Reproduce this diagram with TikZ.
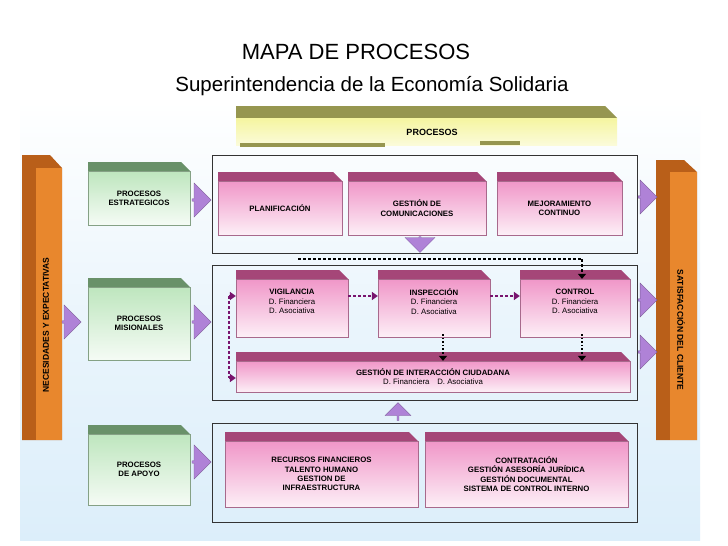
\documentclass[tikz,border=0pt]{standalone}
\usepackage{fontspec}
\setmainfont{Liberation Sans}
\usetikzlibrary{shapes.arrows,arrows.meta}
\definecolor{pinkF}{RGB}{240,150,200}
\definecolor{pinkL}{RGB}{253,235,245}
\definecolor{pinkT}{RGB}{165,70,120}
\definecolor{greenF}{RGB}{190,230,190}
\definecolor{greenL}{RGB}{245,252,245}
\definecolor{greenT}{RGB}{105,145,105}
\definecolor{orF}{RGB}{232,135,45}
\definecolor{orD}{RGB}{185,95,25}
\definecolor{yelF}{RGB}{245,245,160}
\definecolor{yelT}{RGB}{150,150,80}
\definecolor{purA}{RGB}{175,130,215}
\definecolor{purD}{RGB}{120,20,110}
\definecolor{bgB}{RGB}{220,238,250}
\newcommand\tbox[8]{%
 \fill[#7] (#2,#3) -- (#4-9,#3) -- (#4,#3+9) -- (#2,#3+9) -- cycle;
 \node[top color=#6,bottom color=#6!15!white,draw=#6!70!black,line width=0.3pt,inner sep=1pt,align=center,font=\bfseries\fontsize{7.8}{9.3}\selectfont,minimum width={(#4-#2)*1pt},minimum height={(#5-#3-9)*1pt}] (#1) at ({(#2+#4)/2},{(#3+9+#5)/2}) {#8};}
\tikzset{parr/.style={single arrow,fill=purA,draw=purA!70!black,line width=0.3pt,minimum height=19pt,minimum width=34pt,single arrow head extend=2pt,single arrow head indent=0pt,inner sep=0pt},
 frame/.style={draw=black!80,line width=0.9pt},
 pdot/.style={purD,line width=2.6pt,dash pattern=on 2.6pt off 2.4pt,-{Triangle[length=6pt,width=8pt]}},
 bdot/.style={black,line width=2.6pt,dash pattern=on 2.6pt off 2.4pt,-{Triangle[length=5pt,width=8pt]}}}
\begin{document}
\begin{tikzpicture}[x=1pt,y=-1pt]
\useasboundingbox (0,0) rectangle (728,546);
\fill[white] (0,0) rectangle (728,546);
\shade[top color=white,bottom color=bgB,middle color=bgB!60] (20,100) rectangle (700,540);
\node[font=\fontsize{22}{24}\selectfont] (title) at (356,52) {MAPA DE PROCESOS};
\node[font=\fontsize{20.5}{24}\selectfont] (sub) at (372,86) {Superintendencia de la Economía Solidaria};
% PROCESOS bar
\fill[yelT] (236,106) -- (605,106) -- (617,118) -- (236,118) -- cycle;
\shade[top color=yelF,bottom color=yelF!40!white] (236,118) rectangle (617,145);
\node[font=\bfseries\fontsize{9}{10}\selectfont] (proc) at (432,132) {PROCESOS};
\fill[yelT] (240,143) rectangle (385,147); \fill[yelT] (480,141) rectangle (520,145);
% orange pillars
\fill[orD] (22,155) -- (50,155) -- (62,168) -- (62,440) -- (22,440) -- cycle;
\fill[orF] (36,168) rectangle (62,440);
\node[rotate=90,font=\bfseries\fontsize{8.5}{9}\selectfont] (nec) at (46,325) {NECESIDADES Y EXPECTATIVAS};
\fill[orD] (656,160) -- (684,160) -- (697,172) -- (697,440) -- (656,440) -- cycle;
\fill[orF] (670,172) rectangle (697,440);
\node[rotate=-90,font=\bfseries\fontsize{8.5}{9}\selectfont] (sat) at (681,330) {SATISFACCIÓN DEL CLIENTE};
% green
\tbox{ge}{88}{162}{190}{225}{greenF}{greenT}{PROCESOS\\ESTRATEGICOS}
\tbox{gm}{88}{278}{190}{360}{greenF}{greenT}{PROCESOS\\MISIONALES}
\tbox{ga}{88}{425}{190}{505}{greenF}{greenT}{PROCESOS\\DE APOYO}
% frames
\draw[frame] (212,155) rectangle (637,253);
\draw[frame] (212,265) rectangle (637,400);
\draw[frame] (212,423) rectangle (637,522);
% top boxes
\tbox{plan}{218}{172}{342}{235}{pinkF}{pinkT}{PLANIFICACIÓN}
\tbox{com}{348}{172}{486}{235}{pinkF}{pinkT}{GESTIÓN DE\\COMUNICACIONES}
\tbox{mej}{497}{172}{622}{235}{pinkF}{pinkT}{MEJORAMIENTO\\CONTINUO}
% middle
\tbox{vig}{236}{270}{348}{337}{pinkF}{pinkT}{VIGILANCIA\\\mdseries D. Financiera\\\mdseries D. Asociativa\\[4pt]}
\tbox{ins}{378}{270}{490}{337}{pinkF}{pinkT}{INSPECCIÓN\\\mdseries D. Financiera\\\mdseries D. Asociativa\\[4pt]}
\tbox{ctl}{520}{270}{630}{337}{pinkF}{pinkT}{CONTROL\\\mdseries D. Financiera\\\mdseries D. Asociativa\\[4pt]}
\tbox{gic}{236}{352}{630}{392}{pinkF}{pinkT}{GESTIÓN DE INTERACCIÓN CIUDADANA\\\mdseries D. Financiera\quad D. Asociativa}
% bottom
\tbox{rec}{225}{432}{418}{507}{pinkF}{pinkT}{RECURSOS FINANCIEROS\\TALENTO HUMANO\\GESTION DE\\INFRAESTRUCTURA}
\tbox{con}{425}{432}{628}{507}{pinkF}{pinkT}{CONTRATACIÓN\\GESTIÓN ASESORÍA JURÍDICA\\GESTIÓN DOCUMENTAL\\SISTEMA DE CONTROL INTERNO}
% purple arrows
\node[parr] (a1) at (201,200) {};
\node[parr] (a2) at (71,322) {};
\node[parr] (a3) at (201,322) {};
\node[parr] (a4) at (201,462) {};
\node[parr] (a5) at (647,197) {};
\node[parr] (a6) at (647,300) {};
\node[parr] (a7) at (647,352) {};
\node[parr,rotate=-90,minimum height=16pt,minimum width=30pt] (a8) at (420,244) {};
\node[parr,rotate=90,minimum height=18pt,minimum width=26pt] (a9) at (398,412) {};
% dotted connectors
\coordinate (d0) at (298,259);
\coordinate (d1) at (582,259);
\draw[black,line width=2.6pt,dash pattern=on 2.6pt off 2.4pt] (d0) -- (d1);
\draw[bdot] (d1) -- (ctl.north -| d1);
\draw[pdot] (vig.east |- 0,296) -- (ins.west |- 0,296);
\draw[pdot] (ins.east |- 0,296) -- (ctl.west |- 0,296);
\coordinate (l1) at (229,296);
\coordinate (l2) at (229,378);
\draw[purD,line width=2.6pt,dash pattern=on 2.6pt off 2.4pt] (l1) -- (l2);
\draw[pdot] (l1) -- (vig.west |- l1);
\draw[pdot] (l2) -- (gic.west |- l2);
\draw[bdot,line width=1.6pt,dash pattern=on 1.6pt off 2pt] (443,334) -- (gic.north -| 443,0);
\draw[bdot,line width=1.6pt,dash pattern=on 1.6pt off 2pt] (582,334) -- (gic.north -| 582,0);
\end{tikzpicture}
\end{document}
